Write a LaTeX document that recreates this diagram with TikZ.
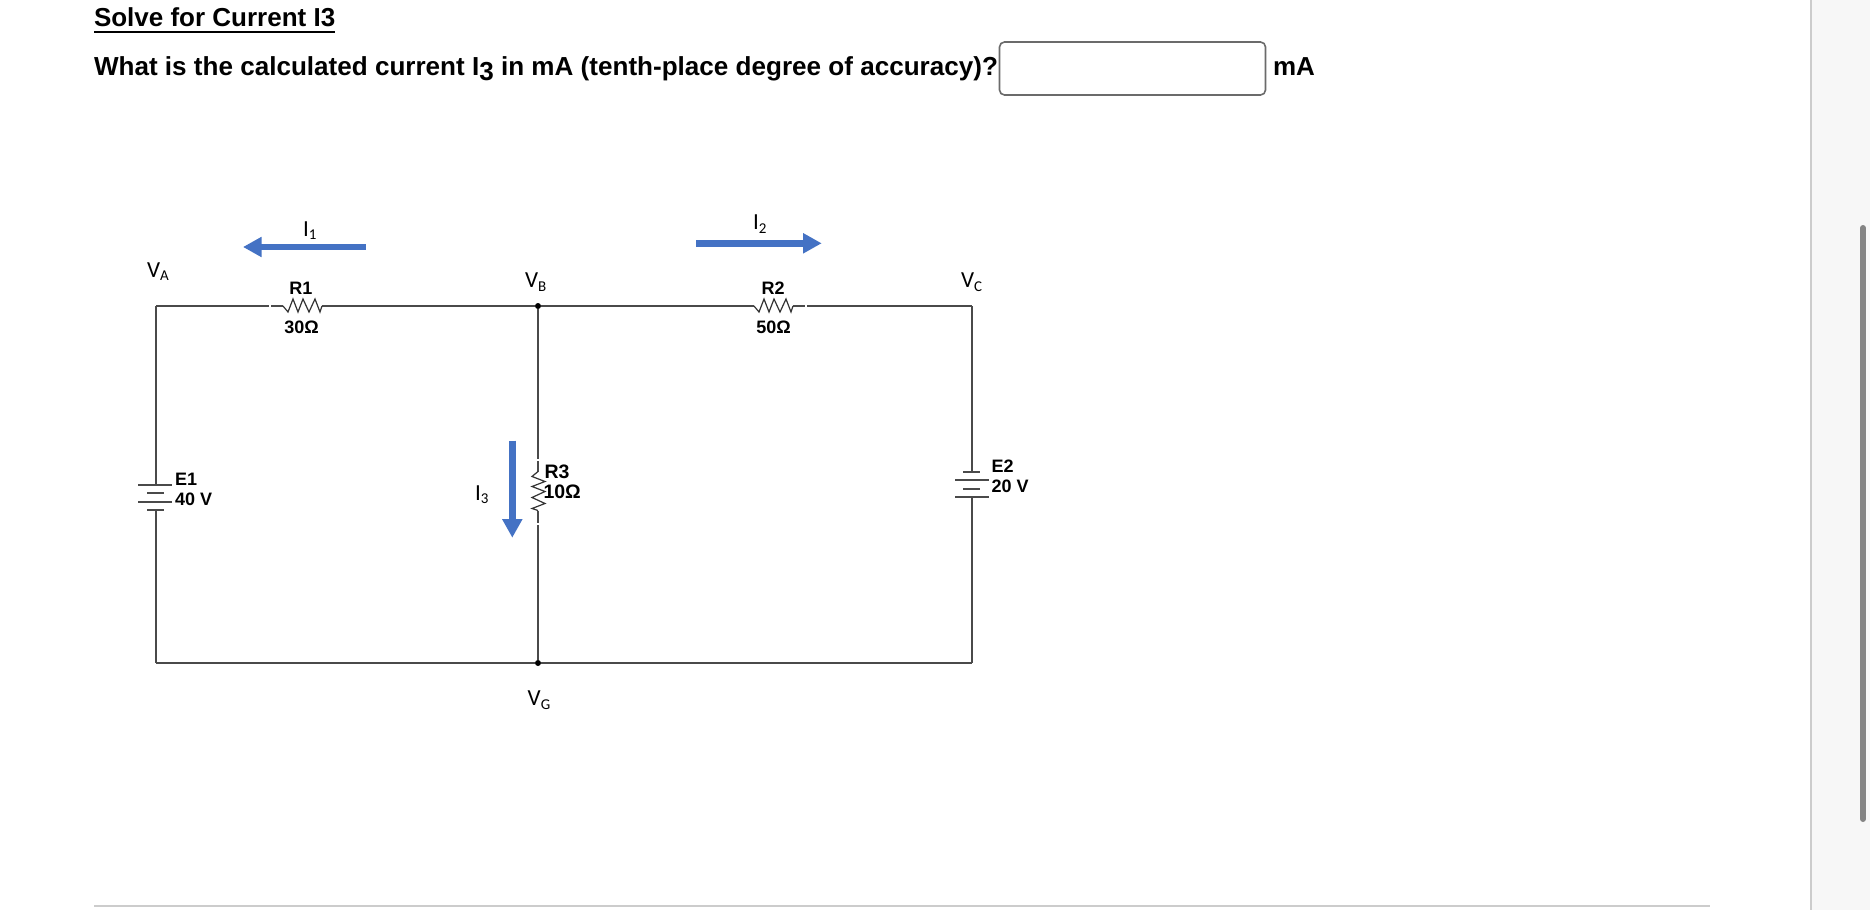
\documentclass[tikz,border=0pt]{standalone}
\usepackage{fontspec}
\usetikzlibrary{arrows.meta}
\setmainfont{Liberation Sans}
\newfontfamily\calfont{Carlito}
\definecolor{wirecol}{HTML}{4A4A4A}
\definecolor{arrowblue}{HTML}{4472C4}
\definecolor{panelgrey}{HTML}{F7F7F7}
\definecolor{rulegrey}{HTML}{CCCCCC}
\definecolor{boxgrey}{HTML}{6B6B6B}
\definecolor{thumbgrey}{HTML}{848484}
\newcommand{\volt}[2]{{\calfont\fontsize{23}{23}\selectfont #1\raisebox{-3.5pt}{\fontsize{15}{15}\selectfont #2}}}
\tikzset{
  x=1pt,y=-1pt,
  wire/.style={draw=wirecol,line width=2pt},
  zig/.style={draw=black!80,line width=1.2pt,line join=miter},
  plate/.style={draw=wirecol,line width=2pt},
  flow/.style={draw=arrowblue,line width=6.5pt,-{Triangle[length=18.5pt,width=19pt]}},
  txt/.style={anchor=base west,inner sep=0pt,outer sep=0pt,text=black},
  ctr/.style={anchor=base,inner sep=0pt,outer sep=0pt,text=black},
  head/.style={txt,font=\bfseries\fontsize{26}{28}\selectfont},
  quest/.style={txt,font=\bfseries\fontsize{26.07}{28}\selectfont},
  part/.style={font=\bfseries\fontsize{18}{20}\selectfont},
  bigpart/.style={font=\bfseries\fontsize{19.5}{20}\selectfont},
  dotjoin/.style={circle,fill=black,inner sep=0pt,minimum size=6pt},
  zigzag/.pic={\draw[zig] (0,0) -- (5,6) -- (10,-7) -- (15,6) -- (20,-7) -- (26,6) -- (32,-7) -- (37,6) -- (39,0);}
}
\begin{document}
\begin{tikzpicture}
\useasboundingbox (0,0) rectangle (1870,910);
\fill[white] (0,0) rectangle (1870,910);
% page chrome
\fill[panelgrey] (1811,0) rectangle (1870,910);
\draw[rulegrey,line width=2pt] (1811,0) -- (1811,910);
\draw[rulegrey,line width=2pt] (94,906) -- (1710,906);
\draw[thumbgrey,line width=6pt,line cap=round] (1863,228) -- (1863,819);
% heading
\node[head] (title) at (94,26.5) {Solve for Current I3};
\draw[black,line width=2pt] (94,31.5) -- (335,31.5);
\node[quest] (question) at (94,75) {What is the calculated current I{\raisebox{-5pt}{3}} in mA (tenth-place degree of accuracy)?};
\node[draw=boxgrey,line width=1.6pt,rounded corners=5pt,minimum width=266pt,minimum height=53pt,inner sep=0pt] (answer) at (1132.5,68.5) {};
\node[head] (unit) at (1273,75) {mA};
% circuit corners and junctions
\coordinate (tl) at (156,306);
\coordinate (tr) at (972,306);
\coordinate (bl) at (156,663);
\coordinate (br) at (972,663);
\node[dotjoin] (vb) at (538,306) {};
\node[dotjoin] (vg) at (538,663) {};
% R1
\coordinate (r1a) at (269,306);
\coordinate (r1b) at (271,306);
\coordinate (r1c) at (283,306);
\coordinate (r1d) at (322,306);
\draw[wire] (tl) -- (r1a);
\draw[wire] (r1b) -- (r1c);
\draw[wire] (r1d) -- (vb);
\pic at (r1c) {zigzag};
\node[ctr,part] (r1name) at (301,294) {R1};
\node[ctr,part] (r1val) at (301.5,333) {30Ω};
% R2
\coordinate (r2a) at (754,306);
\coordinate (r2b) at (793,306);
\coordinate (r2c) at (805,306);
\coordinate (r2d) at (807,306);
\draw[wire] (vb) -- (r2a);
\draw[wire] (r2b) -- (r2c);
\draw[wire] (r2d) -- (tr);
\pic at (r2a) {zigzag};
\node[ctr,part] (r2name) at (773,294) {R2};
\node[ctr,part] (r2val) at (773.5,333) {50Ω};
% R3
\coordinate (r3a) at (538,459);
\coordinate (r3b) at (538,461);
\coordinate (r3c) at (538,471.5);
\coordinate (r3d) at (538,510.5);
\coordinate (r3e) at (538,523);
\coordinate (r3f) at (538,525);
\draw[wire] (vb) -- (r3a);
\draw[wire] (r3b) -- (r3c);
\draw[wire] (r3d) -- (r3e);
\draw[wire] (r3f) -- (vg);
\pic[rotate=-90] at (r3c) {zigzag};
\node[txt,bigpart] (r3name) at (544.5,478) {R3};
\node[txt,bigpart] (r3val) at (543.5,498) {10Ω};
% E1
\coordinate (e1t) at (156,485);
\coordinate (e1b) at (156,510);
\draw[wire] (tl) -- (e1t);
\draw[wire] (e1b) -- (bl);
\draw[plate] (138,485) -- (172,485);
\draw[plate] (147,493) -- (164,493);
\draw[plate] (138,502) -- (172,502);
\draw[plate] (147,510) -- (164,510);
\node[txt,part] (e1name) at (175,485) {E1};
\node[txt,part] (e1val) at (175,505.7) {40 V};
% E2
\coordinate (e2t) at (972,472);
\coordinate (e2b) at (972,497);
\draw[wire] (tr) -- (e2t);
\draw[wire] (e2b) -- (br);
\draw[plate] (963,472) -- (980,472);
\draw[plate] (955,480) -- (989,480);
\draw[plate] (963,489) -- (980,489);
\draw[plate] (955,497) -- (989,497);
\node[txt,part] (e2name) at (991.7,472.7) {E2};
\node[txt,part] (e2val) at (991.7,492.7) {20 V};
% bottom
\draw[wire] (bl) -- (vg);
\draw[wire] (vg) -- (br);
% node voltages
\node[txt] (va) at (147,277) {\volt{V}{A}};
\node[txt] (vbl) at (525,287.5) {\volt{V}{B}};
\node[txt] (vc) at (961,287.5) {\volt{V}{C}};
\node[txt] (vgl) at (527.7,705.5) {\volt{V}{G}};
% current labels and arrows
\node[txt] (i1) at (303,236) {\volt{I}{1}};
\node[txt] (i2) at (753,229.5) {\volt{I}{2}};
\node[txt] (i3) at (475,500) {\volt{I}{3}};
\coordinate (i1s) at (365.7,247);
\coordinate (i1e) at (243,247);
\coordinate (i2s) at (696,243.3);
\coordinate (i2e) at (821.7,243.3);
\coordinate (i3s) at (512.3,440.7);
\coordinate (i3e) at (512.3,537.7);
\draw[flow] (i1s) -- (i1e);
\draw[flow] (i2s) -- (i2e);
\draw[flow] (i3s) -- (i3e);
\end{tikzpicture}
\end{document}
